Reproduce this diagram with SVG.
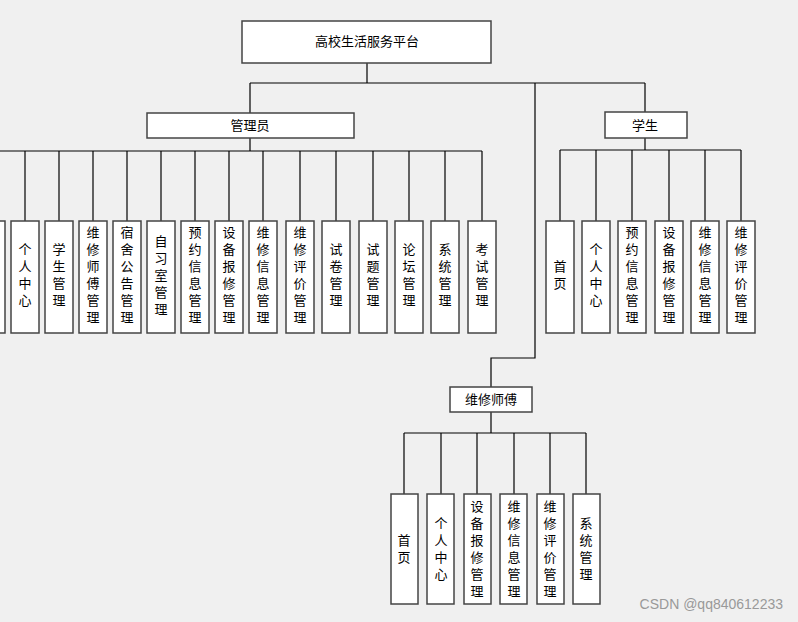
<svg xmlns="http://www.w3.org/2000/svg" width="798" height="622" viewBox="0 0 798 622">
<style>
.b{fill:#fff;stroke:#444;stroke-width:1.5}
.t{font-family:"Noto Sans CJK SC","Liberation Sans",sans-serif;font-size:13px;fill:#000;text-anchor:middle}
.c line,.c polyline{stroke:#000;stroke-width:1.2;fill:none}
</style>
<rect width="798" height="622" fill="#f0f0f0"/>
<g class="c" id="connectors">
<polyline points="367,63 367,83"/>
<line x1="250" y1="83" x2="645" y2="83"/>
<line x1="250" y1="83" x2="250" y2="113"/>
<line x1="645" y1="83" x2="645" y2="112"/>
<polyline points="535,83 535,358 491,358 491,387"/>
<line x1="250" y1="138" x2="250" y2="151"/>
<line x1="0" y1="151" x2="482" y2="151"/>
<line x1="25" y1="151" x2="25" y2="221"/><line x1="59" y1="151" x2="59" y2="221"/><line x1="93" y1="151" x2="93" y2="221"/><line x1="127" y1="151" x2="127" y2="221"/><line x1="161" y1="151" x2="161" y2="221"/><line x1="195" y1="151" x2="195" y2="221"/><line x1="229" y1="151" x2="229" y2="221"/><line x1="263" y1="151" x2="263" y2="221"/><line x1="300" y1="151" x2="300" y2="221"/><line x1="336" y1="151" x2="336" y2="221"/><line x1="373" y1="151" x2="373" y2="221"/><line x1="409" y1="151" x2="409" y2="221"/><line x1="445" y1="151" x2="445" y2="221"/><line x1="482" y1="151" x2="482" y2="221"/>
<line x1="645" y1="138" x2="645" y2="150"/>
<line x1="560" y1="150" x2="741" y2="150"/>
<line x1="560" y1="150" x2="560" y2="221"/><line x1="596" y1="150" x2="596" y2="221"/><line x1="632" y1="150" x2="632" y2="221"/><line x1="669" y1="150" x2="669" y2="221"/><line x1="705" y1="150" x2="705" y2="221"/><line x1="741" y1="150" x2="741" y2="221"/>
<line x1="491" y1="412" x2="491" y2="433"/>
<line x1="404" y1="433" x2="586" y2="433"/>
<line x1="404" y1="433" x2="404" y2="494"/><line x1="441" y1="433" x2="441" y2="494"/><line x1="477" y1="433" x2="477" y2="494"/><line x1="514" y1="433" x2="514" y2="494"/><line x1="550" y1="433" x2="550" y2="494"/><line x1="586" y1="433" x2="586" y2="494"/>
</g>
<g id="root"><rect class="b" x="242" y="21" width="249" height="42"/><text class="t" x="367" y="46">高校生活服务平台</text></g>
<g id="admin"><rect class="b" x="147" y="113" width="207" height="25"/><text class="t" x="250" y="130">管理员</text></g>
<g id="student"><rect class="b" x="605" y="112" width="82" height="26"/><text class="t" x="645" y="130">学生</text></g>
<g id="repair"><rect class="b" x="450" y="387" width="82" height="25"/><text class="t" x="491" y="404">维修师傅</text></g>
<g id="a0"><rect class="b" x="-23" y="221" width="28" height="112"/></g>
<g id="a1"><rect class="b" x="11" y="221" width="28" height="112"/><text class="t" x="25"><tspan x="25" y="254">个</tspan><tspan x="25" y="271">人</tspan><tspan x="25" y="288">中</tspan><tspan x="25" y="305">心</tspan></text></g>
<g id="a2"><rect class="b" x="45" y="221" width="28" height="112"/><text class="t"><tspan x="59" y="254">学</tspan><tspan x="59" y="271">生</tspan><tspan x="59" y="288">管</tspan><tspan x="59" y="305">理</tspan></text></g>
<g id="a3"><rect class="b" x="79" y="221" width="28" height="112"/><text class="t"><tspan x="93" y="237">维</tspan><tspan x="93" y="254">修</tspan><tspan x="93" y="271">师</tspan><tspan x="93" y="288">傅</tspan><tspan x="93" y="305">管</tspan><tspan x="93" y="322">理</tspan></text></g>
<g id="a4"><rect class="b" x="113" y="221" width="28" height="112"/><text class="t"><tspan x="127" y="237">宿</tspan><tspan x="127" y="254">舍</tspan><tspan x="127" y="271">公</tspan><tspan x="127" y="288">告</tspan><tspan x="127" y="305">管</tspan><tspan x="127" y="322">理</tspan></text></g>
<g id="a5"><rect class="b" x="147" y="221" width="28" height="112"/><text class="t"><tspan x="161" y="246">自</tspan><tspan x="161" y="263">习</tspan><tspan x="161" y="280">室</tspan><tspan x="161" y="297">管</tspan><tspan x="161" y="314">理</tspan></text></g>
<g id="a6"><rect class="b" x="181" y="221" width="28" height="112"/><text class="t"><tspan x="195" y="237">预</tspan><tspan x="195" y="254">约</tspan><tspan x="195" y="271">信</tspan><tspan x="195" y="288">息</tspan><tspan x="195" y="305">管</tspan><tspan x="195" y="322">理</tspan></text></g>
<g id="a7"><rect class="b" x="215" y="221" width="28" height="112"/><text class="t"><tspan x="229" y="237">设</tspan><tspan x="229" y="254">备</tspan><tspan x="229" y="271">报</tspan><tspan x="229" y="288">修</tspan><tspan x="229" y="305">管</tspan><tspan x="229" y="322">理</tspan></text></g>
<g id="a8"><rect class="b" x="249" y="221" width="28" height="112"/><text class="t"><tspan x="263" y="237">维</tspan><tspan x="263" y="254">修</tspan><tspan x="263" y="271">信</tspan><tspan x="263" y="288">息</tspan><tspan x="263" y="305">管</tspan><tspan x="263" y="322">理</tspan></text></g>
<g id="a9"><rect class="b" x="286" y="221" width="28" height="112"/><text class="t"><tspan x="300" y="237">维</tspan><tspan x="300" y="254">修</tspan><tspan x="300" y="271">评</tspan><tspan x="300" y="288">价</tspan><tspan x="300" y="305">管</tspan><tspan x="300" y="322">理</tspan></text></g>
<g id="a10"><rect class="b" x="322" y="221" width="28" height="112"/><text class="t"><tspan x="336" y="254">试</tspan><tspan x="336" y="271">卷</tspan><tspan x="336" y="288">管</tspan><tspan x="336" y="305">理</tspan></text></g>
<g id="a11"><rect class="b" x="359" y="221" width="28" height="112"/><text class="t"><tspan x="373" y="254">试</tspan><tspan x="373" y="271">题</tspan><tspan x="373" y="288">管</tspan><tspan x="373" y="305">理</tspan></text></g>
<g id="a12"><rect class="b" x="395" y="221" width="28" height="112"/><text class="t"><tspan x="409" y="254">论</tspan><tspan x="409" y="271">坛</tspan><tspan x="409" y="288">管</tspan><tspan x="409" y="305">理</tspan></text></g>
<g id="a13"><rect class="b" x="431" y="221" width="28" height="112"/><text class="t"><tspan x="445" y="254">系</tspan><tspan x="445" y="271">统</tspan><tspan x="445" y="288">管</tspan><tspan x="445" y="305">理</tspan></text></g>
<g id="a14"><rect class="b" x="468" y="221" width="28" height="112"/><text class="t"><tspan x="482" y="254">考</tspan><tspan x="482" y="271">试</tspan><tspan x="482" y="288">管</tspan><tspan x="482" y="305">理</tspan></text></g>
<g id="s1"><rect class="b" x="546" y="221" width="28" height="112"/><text class="t"><tspan x="560" y="271">首</tspan><tspan x="560" y="288">页</tspan></text></g>
<g id="s2"><rect class="b" x="582" y="221" width="28" height="112"/><text class="t"><tspan x="596" y="254">个</tspan><tspan x="596" y="271">人</tspan><tspan x="596" y="288">中</tspan><tspan x="596" y="305">心</tspan></text></g>
<g id="s3"><rect class="b" x="618" y="221" width="28" height="112"/><text class="t"><tspan x="632" y="237">预</tspan><tspan x="632" y="254">约</tspan><tspan x="632" y="271">信</tspan><tspan x="632" y="288">息</tspan><tspan x="632" y="305">管</tspan><tspan x="632" y="322">理</tspan></text></g>
<g id="s4"><rect class="b" x="655" y="221" width="28" height="112"/><text class="t"><tspan x="669" y="237">设</tspan><tspan x="669" y="254">备</tspan><tspan x="669" y="271">报</tspan><tspan x="669" y="288">修</tspan><tspan x="669" y="305">管</tspan><tspan x="669" y="322">理</tspan></text></g>
<g id="s5"><rect class="b" x="691" y="221" width="28" height="112"/><text class="t"><tspan x="705" y="237">维</tspan><tspan x="705" y="254">修</tspan><tspan x="705" y="271">信</tspan><tspan x="705" y="288">息</tspan><tspan x="705" y="305">管</tspan><tspan x="705" y="322">理</tspan></text></g>
<g id="s6"><rect class="b" x="727" y="221" width="28" height="112"/><text class="t"><tspan x="741" y="237">维</tspan><tspan x="741" y="254">修</tspan><tspan x="741" y="271">评</tspan><tspan x="741" y="288">价</tspan><tspan x="741" y="305">管</tspan><tspan x="741" y="322">理</tspan></text></g>
<g id="r1"><rect class="b" x="391" y="494" width="27" height="110"/><text class="t"><tspan x="404" y="545">首</tspan><tspan x="404" y="562">页</tspan></text></g>
<g id="r2"><rect class="b" x="427" y="494" width="27" height="110"/><text class="t"><tspan x="441" y="528">个</tspan><tspan x="441" y="545">人</tspan><tspan x="441" y="562">中</tspan><tspan x="441" y="579">心</tspan></text></g>
<g id="r3"><rect class="b" x="464" y="494" width="27" height="110"/><text class="t"><tspan x="477" y="511">设</tspan><tspan x="477" y="528">备</tspan><tspan x="477" y="545">报</tspan><tspan x="477" y="562">修</tspan><tspan x="477" y="579">管</tspan><tspan x="477" y="596">理</tspan></text></g>
<g id="r4"><rect class="b" x="500" y="494" width="27" height="110"/><text class="t"><tspan x="514" y="511">维</tspan><tspan x="514" y="528">修</tspan><tspan x="514" y="545">信</tspan><tspan x="514" y="562">息</tspan><tspan x="514" y="579">管</tspan><tspan x="514" y="596">理</tspan></text></g>
<g id="r5"><rect class="b" x="537" y="494" width="27" height="110"/><text class="t"><tspan x="550" y="511">维</tspan><tspan x="550" y="528">修</tspan><tspan x="550" y="545">评</tspan><tspan x="550" y="562">价</tspan><tspan x="550" y="579">管</tspan><tspan x="550" y="596">理</tspan></text></g>
<g id="r6"><rect class="b" x="573" y="494" width="27" height="110"/><text class="t"><tspan x="586" y="528">系</tspan><tspan x="586" y="545">统</tspan><tspan x="586" y="562">管</tspan><tspan x="586" y="579">理</tspan></text></g>
<text x="783" y="609" style="font-family:'Liberation Sans',sans-serif;font-size:14px;fill:#999;text-anchor:end">CSDN @qq840612233</text>
</svg>
